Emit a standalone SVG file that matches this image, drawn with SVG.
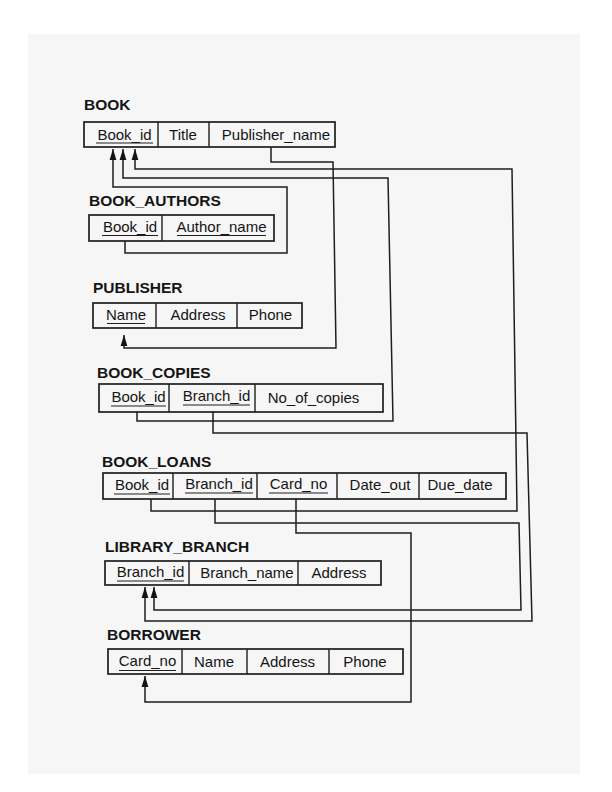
<svg xmlns="http://www.w3.org/2000/svg" width="612" height="792" viewBox="0 0 612 792">
<defs>
<style>
.lbl{font-family:"Liberation Sans",Arial,sans-serif;font-weight:bold;font-size:15.5px;fill:#141414}
.t{font-family:"Liberation Sans",Arial,sans-serif;font-size:15px;fill:#141414;text-anchor:middle}
.box{fill:none;stroke:#1e1e1e;stroke-width:1.7}
.div{stroke:#1e1e1e;stroke-width:1.4}
.ul{stroke:#1e1e1e;stroke-width:1.2}
.con{fill:none;stroke:#1e1e1e;stroke-width:1.5}
</style>
<marker id="arr" markerUnits="userSpaceOnUse" markerWidth="12" markerHeight="8" refX="11" refY="4" orient="auto">
<path d="M0,0.6 L11,4 L0,7.4 z" fill="#141414"/>
</marker>
</defs>
<rect x="0" y="0" width="612" height="792" fill="#ffffff"/>
<rect x="28" y="34" width="552" height="740" fill="#f6f6f6"/>

<g id="connectors">
<path class="con" d="M125,241 V253 H287 V187 H113 V149" marker-end="url(#arr)"/>
<path class="con" d="M137,412 V421 H393 L388,178 H123 V149" marker-end="url(#arr)"/>
<path class="con" d="M151,499 V511 H517 L512,169 H135 V149" marker-end="url(#arr)"/>
<path class="con" d="M271,147 V162 H333 L336,348 H124 V335" marker-end="url(#arr)"/>
<path class="con" d="M213,412 V433 H527 L532,621 H145 V587" marker-end="url(#arr)"/>
<path class="con" d="M215,499 V523 H519 L521,610 H154 V587" marker-end="url(#arr)"/>
<path class="con" d="M296,499 V533 H411 V702 H145 V676" marker-end="url(#arr)"/>
</g>

<g id="BOOK">
<text class="lbl" x="84" y="110">BOOK</text>
<rect class="box" x="84" y="122" width="251" height="25"/>
<line class="div" x1="158" y1="122" x2="158" y2="147"/>
<line class="div" x1="209" y1="122" x2="209" y2="147"/>
<text class="t" x="124.5" y="140">Book_id</text>
<line class="ul" x1="96" y1="143" x2="153" y2="143"/>
<text class="t" x="183" y="140">Title</text>
<text class="t" x="276" y="140">Publisher_name</text>
</g>

<g id="BOOK_AUTHORS">
<text class="lbl" x="89" y="206">BOOK_AUTHORS</text>
<rect class="box" x="89" y="215" width="185" height="26"/>
<line class="div" x1="162" y1="215" x2="162" y2="241"/>
<text class="t" x="130" y="232">Book_id</text>
<line class="ul" x1="102" y1="235.5" x2="158" y2="235.5"/>
<text class="t" x="221.5" y="232">Author_name</text>
<line class="ul" x1="177" y1="235.5" x2="266" y2="235.5"/>
</g>

<g id="PUBLISHER">
<text class="lbl" x="93" y="293">PUBLISHER</text>
<rect class="box" x="93" y="303" width="209" height="25"/>
<line class="div" x1="156" y1="303" x2="156" y2="328"/>
<line class="div" x1="237" y1="303" x2="237" y2="328"/>
<text class="t" x="126" y="320">Name</text>
<line class="ul" x1="107" y1="323.5" x2="145" y2="323.5"/>
<text class="t" x="198" y="320">Address</text>
<text class="t" x="270.5" y="320">Phone</text>
</g>

<g id="BOOK_COPIES">
<text class="lbl" x="97" y="378">BOOK_COPIES</text>
<rect class="box" x="99" y="384" width="284" height="28"/>
<line class="div" x1="169" y1="384" x2="169" y2="412"/>
<line class="div" x1="255" y1="384" x2="255" y2="412"/>
<text class="t" x="138.5" y="402">Book_id</text>
<line class="ul" x1="111" y1="406" x2="166" y2="406"/>
<text class="t" x="216.5" y="401">Branch_id</text>
<line class="ul" x1="183" y1="405" x2="250" y2="405"/>
<text class="t" x="313.5" y="403">No_of_copies</text>
</g>

<g id="BOOK_LOANS">
<text class="lbl" x="102" y="467">BOOK_LOANS</text>
<rect class="box" x="103" y="473" width="403" height="26"/>
<line class="div" x1="173" y1="473" x2="173" y2="499"/>
<line class="div" x1="257" y1="473" x2="257" y2="499"/>
<line class="div" x1="337" y1="473" x2="337" y2="499"/>
<line class="div" x1="419" y1="473" x2="419" y2="499"/>
<text class="t" x="142" y="490">Book_id</text>
<line class="ul" x1="114" y1="494" x2="170" y2="494"/>
<text class="t" x="219" y="489">Branch_id</text>
<line class="ul" x1="185" y1="493" x2="253" y2="493"/>
<text class="t" x="298.5" y="489">Card_no</text>
<line class="ul" x1="269" y1="493" x2="328" y2="493"/>
<text class="t" x="380" y="490">Date_out</text>
<text class="t" x="460" y="490">Due_date</text>
</g>

<g id="LIBRARY_BRANCH">
<text class="lbl" x="105" y="552">LIBRARY_BRANCH</text>
<rect class="box" x="105" y="561" width="276" height="24"/>
<line class="div" x1="189" y1="561" x2="189" y2="585"/>
<line class="div" x1="298" y1="561" x2="298" y2="585"/>
<text class="t" x="150.5" y="577">Branch_id</text>
<line class="ul" x1="117" y1="581" x2="184" y2="581"/>
<text class="t" x="247" y="578">Branch_name</text>
<text class="t" x="339" y="578">Address</text>
</g>

<g id="BORROWER">
<text class="lbl" x="107" y="640">BORROWER</text>
<rect class="box" x="108" y="649" width="295" height="25"/>
<line class="div" x1="182" y1="649" x2="182" y2="674"/>
<line class="div" x1="247" y1="649" x2="247" y2="674"/>
<line class="div" x1="329" y1="649" x2="329" y2="674"/>
<text class="t" x="147.5" y="666">Card_no</text>
<line class="ul" x1="119" y1="670.5" x2="176" y2="670.5"/>
<text class="t" x="214" y="667">Name</text>
<text class="t" x="287.5" y="667">Address</text>
<text class="t" x="365" y="667">Phone</text>
</g>
</svg>
